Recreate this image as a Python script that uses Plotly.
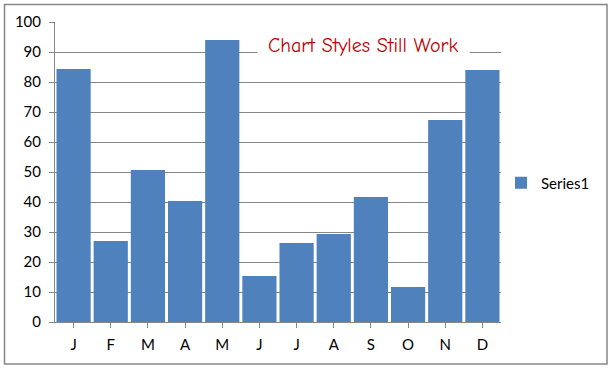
import plotly.graph_objects as go

months = ["J", "F", "M", "A", "M", "J", "J", "A", "S", "O", "N", "D"]
series1 = [84.3, 27.0, 50.7, 40.3, 94.0, 15.3, 26.3, 29.3, 41.7, 11.7, 67.3, 84.0]
x_pos = list(range(len(months)))

W, H = 611, 370
L, R, T, B = 55, 501, 22, 322
pw, ph = R - L, B - T

def px(x):
    return (x - L) / pw

def py(y):
    return (B - y) / ph

fig = go.Figure()
fig.add_trace(go.Bar(
    x=x_pos, y=series1, name="Series1",
    marker=dict(color="#4F81BD", line=dict(width=0)),
))

font_main = "Lato, 'Open Sans', sans-serif"
fig.update_layout(
    width=W, height=H,
    margin=dict(l=L, r=W - R, t=T, b=H - B),
    paper_bgcolor="white", plot_bgcolor="white",
    bargap=0.08,
    showlegend=True,
    font=dict(family=font_main, size=15, color="black"),
    legend=dict(x=px(501), y=py(183), xanchor="left", yanchor="middle",
                font=dict(size=15), bgcolor="rgba(0,0,0,0)", itemwidth=30,
                borderwidth=0),
    xaxis=dict(
        tickmode="array", tickvals=x_pos, ticktext=months,
        range=[-0.5, 11.5], showline=True, linecolor="#868686", linewidth=1,
        ticks="outside", tickson="boundaries", ticklen=5, tickcolor="#868686",
        showgrid=False, zeroline=False, tickfont=dict(size=15),
        ticklabelstandoff=4,
    ),
    yaxis=dict(
        range=[0, 100], dtick=10, showline=True, linecolor="#868686", linewidth=1,
        ticks="outside", ticklen=5, tickcolor="#868686",
        showgrid=True, gridcolor="#868686", gridwidth=1, zeroline=False,
        tickfont=dict(size=15), ticklabelstandoff=5,
    ),
    shapes=[dict(type="rect", xref="paper", yref="paper",
                 x0=px(4.5), x1=px(607), y0=py(364), y1=py(4.5),
                 line=dict(color="#868686", width=1.5), layer="above")],
    annotations=[dict(text="Chart Styles Still Work", xref="paper", yref="paper",
                      x=px(363), y=py(45), xanchor="center", yanchor="middle",
                      showarrow=False, bgcolor="white", borderpad=10,
                      font=dict(family="'Comic Sans MS', 'Comic Neue', cursive, 'DejaVu Sans'",
                                size=20, color="#C00000"))],
)

fig.write_html("out.html")
